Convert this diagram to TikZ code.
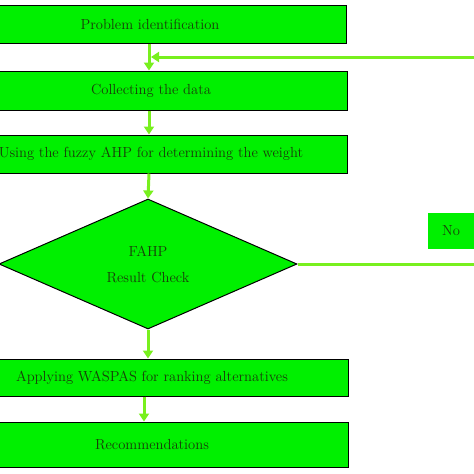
\documentclass[tikz,border=0pt]{standalone}
\usepackage{amsmath}
\usepackage{amssymb}
\usetikzlibrary{shapes.geometric,arrows.meta}
\definecolor{boxgreen}{RGB}{0,240,0}
\definecolor{arrowgreen}{RGB}{120,240,30}
\definecolor{textgreen}{RGB}{25,60,10}

\begin{document}
\begin{tikzpicture}[x=1pt,y=-1pt,
        stepbox/.style={draw=black,line width=1pt,fill=boxgreen,minimum width=392pt,inner sep=0pt,text=textgreen,font=\fontsize{14.6}{17}\selectfont},
        checkbox/.style={diamond,draw=black,line width=1pt,fill=boxgreen,minimum width=298pt,minimum height=130pt,inner sep=0pt,aspect=2.3,text=textgreen,align=center,font=\fontsize{14.6}{26}\selectfont},
        flow/.style={arrowgreen,line width=3pt,-{Triangle[width=10pt,length=8pt]}}]
        \useasboundingbox (0,0) rectangle (474,474);
        \clip (0,0) rectangle (474,474);
        \node[stepbox,minimum height=38pt] (ident) at (150,24) {Problem identification};
        \node[stepbox,minimum height=39pt] (collect) at (151,90.5) {Collecting the data};
        \node[stepbox,minimum height=38pt] (fahp) at (151,154) {Using the fuzzy AHP for determining the weight};
        \node[checkbox] (check) at (148,264) {FAHP\\Result Check};
        \node[stepbox,minimum height=37pt] (waspas) at (152,377.5) {Applying WASPAS for ranking alternatives};
        \node[stepbox,minimum height=45pt] (recom) at (152,444.5) {Recommendations};
        \node[fill=boxgreen,minimum width=46pt,minimum height=36pt,inner sep=0pt,text=textgreen,font=\fontsize{14.6}{17}\selectfont] (no) at (451,231) {No};
        \coordinate (join) at (149,57);
        \coordinate (turn) at (490,264);
        \draw[flow] (ident.south -| join) -- (collect.north -| join);
        \draw[flow] (collect.south -| join) -- (fahp.north -| join);
        \draw[flow] (fahp.south -| join) -- (check.north);
        \draw[flow] (check.south) -- (waspas.north -| check.south);
        \draw[flow] (waspas.south -| 144,0) -- (recom.north -| 144,0);
        \draw[arrowgreen,line width=3pt,-{Triangle[width=10pt,length=8pt]}] (check.east) -- (turn) |- ([xshift=2pt]join);
\end{tikzpicture}
\end{document}
